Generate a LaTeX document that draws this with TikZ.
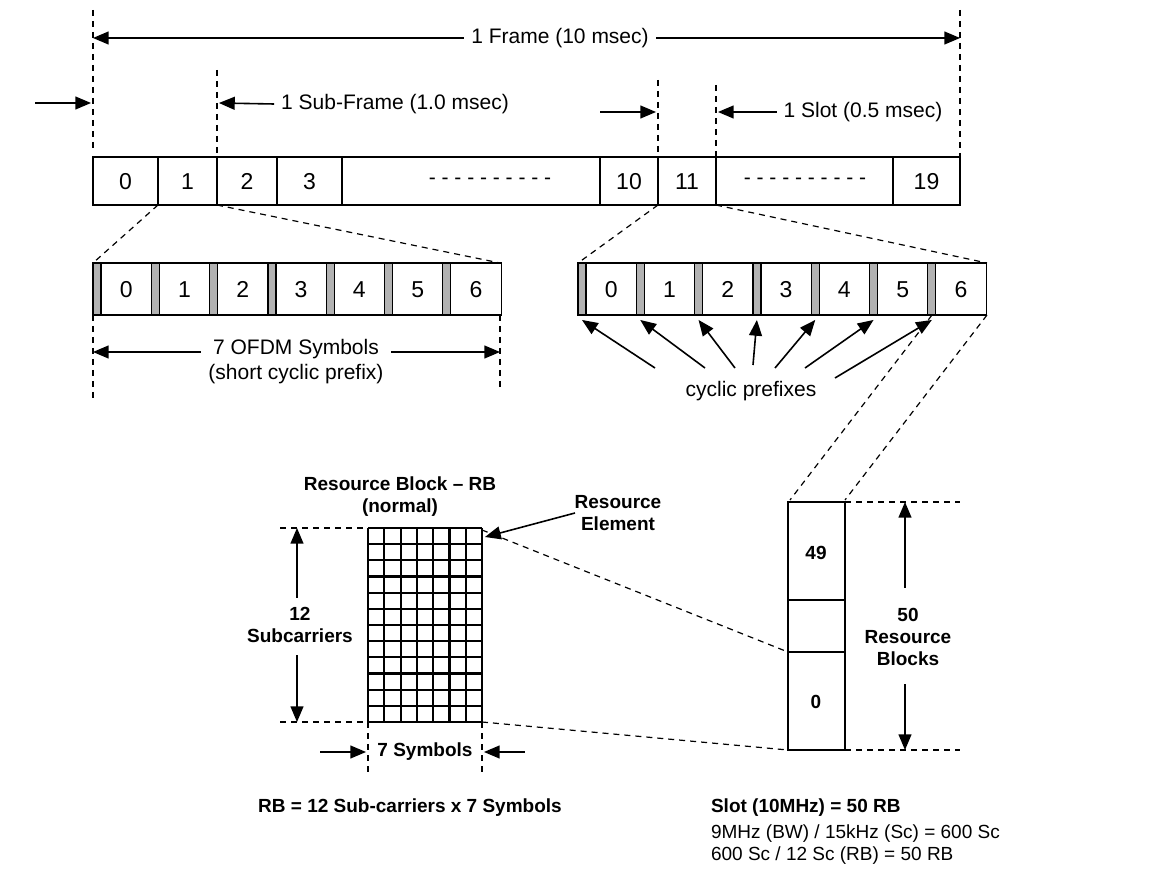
\documentclass[tikz,border=0pt]{standalone}
\usepackage{fontspec}
\setmainfont{Liberation Sans}
\usetikzlibrary{positioning,arrows,calc}
\begin{document}
\begin{tikzpicture}[x=0.5pt,y=-0.5pt,>=latex,
	dim/.style={<-,thick,>=triangle 45},
	guide/.style={semithick,dash pattern=on 3pt off 2.5pt},
	cell/.style={draw=black,semithick},
	cp/.style={draw=black,semithick,fill=gray!60},
	lbl/.style={font=\fontsize{10.5}{12.5}\selectfont,align=center},
	num/.style={font=\fontsize{11.5}{12}\selectfont,text height=1.6ex,text depth=0pt},
	blbl/.style={font=\bfseries\fontsize{9.5}{11}\selectfont,align=center}]
	\useasboundingbox (0,0) rectangle (1152,877);
	% frame
	\foreach \a/\b/\t in {93/158/0,158/217/1,217/277/2,277/342/3,342/600/{},600/658/10,658/716/11,716/893/{},893/960/19}
		\draw[cell] (\a,157) rectangle (\b,205) node[midway,num] {\t};
	\node[lbl] (dotsA) at (490,181) {- - - - - - - - - -};
	\node[lbl] (dotsB) at (805,181) {- - - - - - - - - -};
	\coordinate (f0) at (93,10); \coordinate (f1) at (93,150);
	\coordinate (f2) at (960,10); \coordinate (f3) at (960,157);
	\coordinate (s0) at (217,70); \coordinate (s1) at (217,157);
	\coordinate (t0) at (658,80); \coordinate (t1) at (658,157);
	\coordinate (t2) at (716,85); \coordinate (t3) at (716,157);
	\path[guide] (f0) edge (f1) (f2) edge (f3) (s0) edge (s1) (t0) edge (t1) (t2) edge (t3);
	\node[lbl] (frame) at (560,38) {1 Frame (10 msec)};
	\draw[dim] (93,38) -- (frame.west);
	\draw[dim] (960,38) -- (frame.east);
	\node[lbl] (subfr) at (395,104) {1 Sub-Frame (1.0 msec)};
	\coordinate (sa) at (35,103); \coordinate (sb) at (91,103);
	\draw[dim] (sb) -- (sa);
	\draw[dim] (219,103) -- (subfr.west);
	\node[lbl] (slot) at (863,112) {1 Slot (0.5 msec)};
	\coordinate (ta) at (600,112); \coordinate (tb) at (656,112);
	\draw[dim] (tb) -- (ta);
	\draw[dim] (718,112) -- (slot.west);
	% symbols
	\foreach \xs in {93,578}{
		\foreach \k in {0,...,6}{
			\pgfmathsetmacro{\xa}{\xs+\k*58.3}
			\draw[cp] (\xa,263) rectangle ({\xa+8},315);
			\draw[cell] ({\xa+8},263) rectangle ({\xa+58.3},315) node[midway,num] {\k};
		}
	}
	\path[guide] (158,205) edge (93,263) (217,205) edge (500,263)
		(658,205) edge (578,263) (716,205) edge (987,263);
	\path[guide] (93,315) edge (93,398) (500,315) edge (500,390);
	\node[lbl] (ofdm) at (296,362) {7 OFDM Symbols\\(short cyclic prefix)};
	\draw[dim] (93,352) -- (ofdm.west|-0,352);
	\draw[dim] (500,352) -- (ofdm.east|-0,352);
	\node[lbl] (cyc) at (751,391) {cyclic prefixes};
	\foreach \k/\sx/\sy in {0/655/368,1/705/368,2/735/368,3/753/365,4/775/368,5/805/368,6/835/378}
		\draw[dim] ({582+\k*58.3},320) -- (\sx,\sy);
	% resource block column
	\draw[cell] (788,502) rectangle (845,750);
	\draw[cell] (788,600) -- (845,600) (788,652) -- (845,652);
	\node[blbl] (rb49) at (816,553) {49};
	\node[blbl] (rb0) at (816,702) {0};
	\path[guide] (932,315) edge (790,500) (987,315) edge (845,500);
	\path[guide] (845,502) edge (960,502) (845,750) edge (960,750);
	\node[blbl] (fifty) at (908,637) {50\\Resource\\Blocks};
	\draw[dim] (905,502) -- (905,588);
	\draw[dim] (905,750) -- (905,684);
	% grid
	\foreach \i in {0,...,7} \draw[line width=1.1pt] ({368+\i*16.3},528) -- ({368+\i*16.3},722);
	\foreach \j in {0,...,12} \draw[line width=1.1pt] (368,{528+\j*16.17}) -- (482,{528+\j*16.17});
	\path[guide] (280,528) edge (368,528) (280,722) edge (368,722);
	\path[guide] (482,530) edge (788,652) (482,722) edge (788,750);
	\path[guide] (368,722) edge (368,772) (482,722) edge (482,772);
	\node[blbl] (sub) at (300,625) {12\\Subcarriers};
	\draw[dim] (297,528) -- (297,598);
	\draw[dim] (297,722) -- (297,655);
	\node[blbl] (sym) at (425,752) {7 Symbols};
	\draw[dim] (366,752) -- (320,752);
	\draw[dim] (484,752) -- (525,752);
	\node[blbl] (rbt) at (400,497) {Resource Block -- RB\\(normal)};
	\node[blbl] (re) at (618,513) {Resource\\Element};
	\draw[dim] (485,537) -- (575,513);
	\node[blbl] (rbeq) at (410,808) {RB = 12 Sub-carriers x 7 Symbols};
	\node[blbl,anchor=west] (sloteq) at (704,808) {Slot (10MHz) = 50 RB};
	\node[lbl,anchor=north west,align=left,font=\fontsize{9.5}{11}\selectfont] (calc) at (704,818) {9MHz (BW) / 15kHz (Sc) = 600 Sc\\600 Sc / 12 Sc (RB) = 50 RB};
\end{tikzpicture}
\end{document}
